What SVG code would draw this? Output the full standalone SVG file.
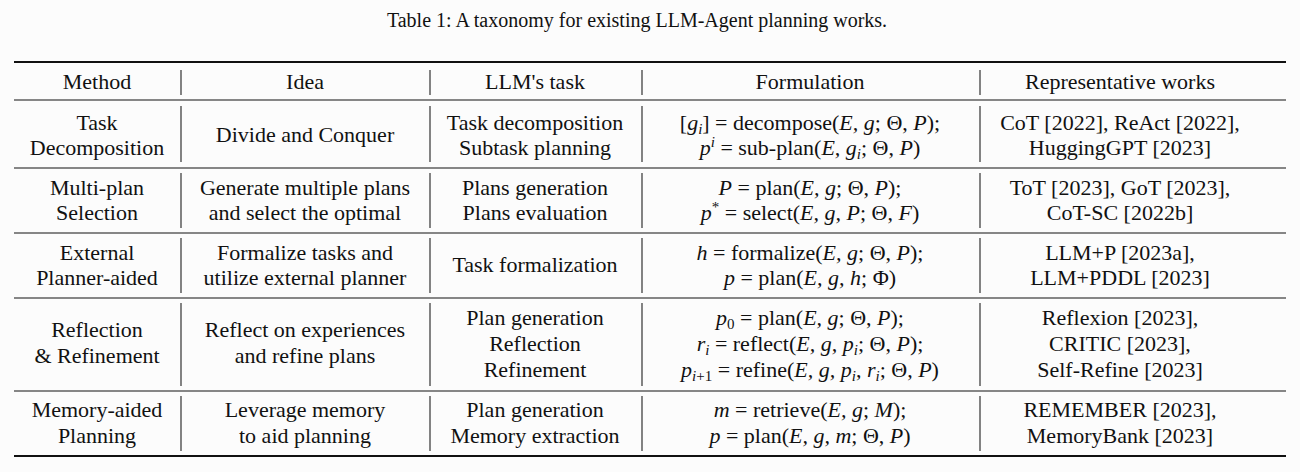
<svg xmlns="http://www.w3.org/2000/svg" width="1300" height="472" viewBox="0 0 1300 472">
<style>
text{font-family:"Liberation Serif",serif;fill:#111;text-anchor:middle;font-size:22px}
.i{font-style:italic}
.thick{stroke:#111;stroke-width:2}
.thin{stroke:#111;stroke-width:1.2}
.sep{stroke:#333;stroke-width:1.2}
</style>
<rect width="1300" height="472" fill="#fcfcfc"/>
<text style="font-size:20px" x="637" y="27">Table 1: A taxonomy for existing LLM-Agent planning works.</text>
<g id="rules">
<line class="thick" x1="14" y1="62" x2="1286" y2="62"/>
<line class="thin" x1="14" y1="100" x2="1286" y2="100"/>
<line class="thin" x1="14" y1="168" x2="1286" y2="168"/>
<line class="thin" x1="14" y1="233" x2="1286" y2="233"/>
<line class="thin" x1="14" y1="298" x2="1286" y2="298"/>
<line class="thin" x1="14" y1="391" x2="1286" y2="391"/>
<line class="thick" x1="14" y1="456" x2="1286" y2="456"/>
</g>
<g id="separators">
<path class="sep" d="M181 70V95M430 70V95M642 70V95M980 70V95
M181 106V162M430 106V162M642 106V162M980 106V162
M181 173V228M430 173V228M642 173V228M980 173V228
M181 238V293M430 238V293M642 238V293M980 238V293
M181 303V386M430 303V386M642 303V386M980 303V386
M181 396V451M430 396V451M642 396V451M980 396V451"/>
</g>
<g id="header" font-family="Liberation Serif">
<text x="97" y="89">Method</text><text x="305" y="89">Idea</text><text x="535" y="89">LLM's task</text><text x="810" y="89">Formulation</text><text x="1120" y="89">Representative works</text>
</g>
<g id="row1" font-family="Liberation Serif">
<text x="97" y="130">Task</text><text x="97" y="155">Decomposition</text>
<text x="305" y="142">Divide and Conquer</text>
<text x="535" y="130">Task decomposition</text><text x="535" y="155">Subtask planning</text>
<text x="810" y="130">[<tspan class="i">g</tspan><tspan font-size="15" dy="4" class="i">i</tspan><tspan dy="-4">] = decompose(</tspan><tspan class="i">E, g</tspan>; Θ, <tspan class="i">P</tspan>);</text>
<text x="810" y="155"><tspan class="i">p</tspan><tspan font-size="15" dy="-8" class="i">i</tspan><tspan dy="8"> = sub-plan(</tspan><tspan class="i">E, g</tspan><tspan font-size="15" dy="4" class="i">i</tspan><tspan dy="-4">; Θ, </tspan><tspan class="i">P</tspan>)</text>
<text x="1120" y="130">CoT [2022], ReAct [2022],</text><text x="1120" y="155">HuggingGPT [2023]</text>
</g>
<g id="row2" font-family="Liberation Serif">
<text x="97" y="195">Multi-plan</text><text x="97" y="220">Selection</text>
<text x="305" y="195">Generate multiple plans</text><text x="305" y="220">and select the optimal</text>
<text x="535" y="195">Plans generation</text><text x="535" y="220">Plans evaluation</text>
<text x="810" y="195"><tspan class="i">P</tspan> = plan(<tspan class="i">E, g</tspan>; Θ, <tspan class="i">P</tspan>);</text>
<text x="810" y="220"><tspan class="i">p</tspan><tspan font-size="15" dy="-8">*</tspan><tspan dy="8"> = select(</tspan><tspan class="i">E, g, P</tspan>; Θ, <tspan class="i">F</tspan>)</text>
<text x="1120" y="195">ToT [2023], GoT [2023],</text><text x="1120" y="220">CoT-SC [2022b]</text>
</g>
<g id="row3" font-family="Liberation Serif">
<text x="97" y="260">External</text><text x="97" y="285">Planner-aided</text>
<text x="305" y="260">Formalize tasks and</text><text x="305" y="285">utilize external planner</text>
<text x="535" y="272">Task formalization</text>
<text x="810" y="260"><tspan class="i">h</tspan> = formalize(<tspan class="i">E, g</tspan>; Θ, <tspan class="i">P</tspan>);</text>
<text x="810" y="285"><tspan class="i">p</tspan> = plan(<tspan class="i">E, g, h</tspan>; Φ)</text>
<text x="1120" y="260">LLM+P [2023a],</text><text x="1120" y="285">LLM+PDDL [2023]</text>
</g>
<g id="row4" font-family="Liberation Serif">
<text x="97" y="337">Reflection</text><text x="97" y="363">&amp; Refinement</text>
<text x="305" y="337">Reflect on experiences</text><text x="305" y="363">and refine plans</text>
<text x="535" y="325">Plan generation</text><text x="535" y="351">Reflection</text><text x="535" y="377">Refinement</text>
<text x="810" y="325"><tspan class="i">p</tspan><tspan font-size="15" dy="4">0</tspan><tspan dy="-4"> = plan(</tspan><tspan class="i">E, g</tspan>; Θ, <tspan class="i">P</tspan>);</text>
<text x="810" y="351"><tspan class="i">r</tspan><tspan font-size="15" dy="4" class="i">i</tspan><tspan dy="-4"> = reflect(</tspan><tspan class="i">E, g, p</tspan><tspan font-size="15" dy="4" class="i">i</tspan><tspan dy="-4">; Θ, </tspan><tspan class="i">P</tspan>);</text>
<text x="810" y="377"><tspan class="i">p</tspan><tspan font-size="15" dy="4"><tspan class="i">i</tspan>+1</tspan><tspan dy="-4"> = refine(</tspan><tspan class="i">E, g, p</tspan><tspan font-size="15" dy="4" class="i">i</tspan><tspan dy="-4">, </tspan><tspan class="i">r</tspan><tspan font-size="15" dy="4" class="i">i</tspan><tspan dy="-4">; Θ, </tspan><tspan class="i">P</tspan>)</text>
<text x="1120" y="325">Reflexion [2023],</text><text x="1120" y="351">CRITIC [2023],</text><text x="1120" y="377">Self-Refine [2023]</text>
</g>
<g id="row5" font-family="Liberation Serif">
<text x="97" y="417">Memory-aided</text><text x="97" y="443">Planning</text>
<text x="305" y="417">Leverage memory</text><text x="305" y="443">to aid planning</text>
<text x="535" y="417">Plan generation</text><text x="535" y="443">Memory extraction</text>
<text x="810" y="417"><tspan class="i">m</tspan> = retrieve(<tspan class="i">E, g</tspan>; <tspan class="i">M</tspan>);</text>
<text x="810" y="443"><tspan class="i">p</tspan> = plan(<tspan class="i">E, g, m</tspan>; Θ, <tspan class="i">P</tspan>)</text>
<text x="1120" y="417">REMEMBER [2023],</text><text x="1120" y="443">MemoryBank [2023]</text>
</g>
</svg>
